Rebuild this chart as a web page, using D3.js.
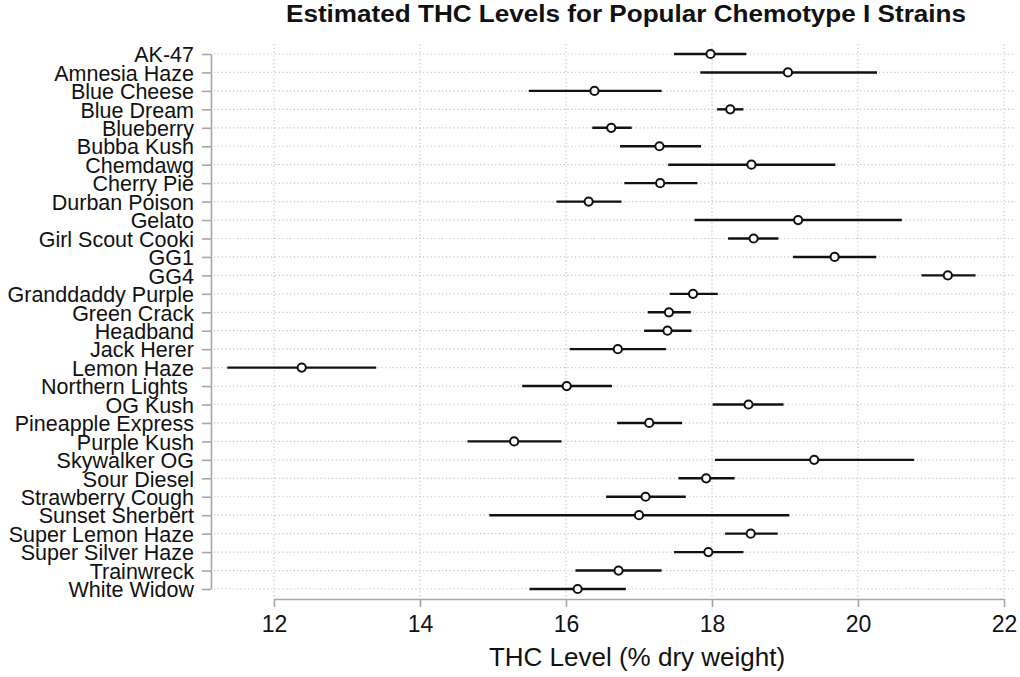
<!DOCTYPE html>
<html>
<head>
<meta charset="utf-8">
<script src="https://cdn.jsdelivr.net/npm/d3@7"></script>
<style>
  body { margin: 0; background: #fff; }
  svg { font-family: "Liberation Sans", Arial, Helvetica, sans-serif; }
</style>
</head>
<body>
<div id="chart"></div>
<script>
//////////////////////////////////////////////////////////////////////////////
// data

var strains = ["AK-47", "Amnesia Haze", "Blue Cheese", "Blue Dream", "Blueberry",
  "Bubba Kush", "Chemdawg", "Cherry Pie", "Durban Poison", "Gelato",
  "Girl Scout Cooki", "GG1", "GG4", "Granddaddy Purple", "Green Crack",
  "Headband", "Jack Herer", "Lemon Haze", "Northern Lights ", "OG Kush",
  "Pineapple Express", "Purple Kush", "Skywalker OG", "Sour Diesel",
  "Strawberry Cough", "Sunset Sherbert", "Super Lemon Haze", "Super Silver Haze",
  "Trainwreck", "White Widow"];

var thcMean = [17.98, 19.04, 16.39, 18.25, 16.62, 17.28, 18.54, 17.29, 16.31, 19.18,
  18.57, 19.68, 21.23, 17.74, 17.41, 17.39, 16.71, 12.38, 16.01, 18.50,
  17.14, 15.29, 19.40, 17.92, 17.09, 17.00, 18.53, 17.95, 16.72, 16.16];

var thcLow = [17.48, 17.84, 15.49, 18.07, 16.36, 16.74, 17.40, 16.80, 15.87, 17.76,
  18.22, 19.11, 20.87, 17.42, 17.12, 17.07, 16.05, 11.36, 15.40, 18.01,
  16.70, 14.65, 18.04, 17.54, 16.55, 14.95, 18.18, 17.48, 16.13, 15.50];

var thcHigh = [18.47, 20.26, 17.31, 18.43, 16.90, 17.85, 19.69, 17.80, 16.76, 20.60,
  18.91, 20.25, 21.61, 18.08, 17.71, 17.72, 17.37, 13.40, 16.63, 18.98,
  17.59, 15.94, 20.77, 18.31, 17.64, 19.06, 18.90, 18.43, 17.31, 16.82];

var xTicks = [12, 14, 16, 18, 20, 22];

//////////////////////////////////////////////////////////////////////////////
// setup

var width = 1020, height = 677;
var axisColor = "#a6a6a6", gridColor = "#c4c4c4";

var x = d3.scaleLinear().domain([12, 22]).range([274, 1004]);
var y = d3.scalePoint().domain(strains).range([54, 589]);

var rows = strains.map(function(s, i) {
  return { name: s, mean: thcMean[i], lo: thcLow[i], hi: thcHigh[i] };
});

var svg = d3.select("#chart").append("svg")
  .attr("width", width)
  .attr("height", height);

// grid
svg.append("g").selectAll("line")
  .data(strains).enter().append("line")
  .attr("x1", 214).attr("x2", 1016)
  .attr("y1", function(d) { return y(d); })
  .attr("y2", function(d) { return y(d); })
  .attr("stroke", gridColor).attr("stroke-width", 1.2)
  .attr("stroke-dasharray", "1.2,2.6");

svg.append("g").selectAll("line")
  .data(xTicks).enter().append("line")
  .attr("x1", function(d) { return x(d); })
  .attr("x2", function(d) { return x(d); })
  .attr("y1", 44).attr("y2", 597)
  .attr("stroke", gridColor).attr("stroke-width", 1.2)
  .attr("stroke-dasharray", "1.2,2.6");

// axes
var xAxis = svg.append("g")
  .attr("transform", "translate(0,599)")
  .call(d3.axisBottom(x).tickValues(xTicks).tickSize(8).tickSizeOuter(0));
xAxis.selectAll(".domain, line").attr("stroke", axisColor).attr("stroke-width", 1.6);
xAxis.selectAll("text")
  .attr("y", 33).attr("dy", null)
  .attr("fill", "#111")
  .style("font-size", "23px");

var yAxis = svg.append("g")
  .attr("transform", "translate(211,0)")
  .call(d3.axisLeft(y).tickSize(9).tickSizeOuter(0).tickPadding(8));
yAxis.selectAll(".domain, line").attr("stroke", axisColor).attr("stroke-width", 1.6);
yAxis.selectAll("text")
  .attr("fill", "#111")
  .attr("dy", "0.36em")
  .style("white-space", "pre")
  .style("font-size", "21.5px");

svg.selectAll(".tick text").style("font-family", "'Liberation Sans', Arial, sans-serif");

// interval lines and points
var marks = svg.append("g");
marks.selectAll("line")
  .data(rows).enter().append("line")
  .attr("x1", function(d) { return x(d.lo); })
  .attr("x2", function(d) { return x(d.hi); })
  .attr("y1", function(d) { return y(d.name); })
  .attr("y2", function(d) { return y(d.name); })
  .attr("stroke", "#111").attr("stroke-width", 2.4);

marks.selectAll("circle")
  .data(rows).enter().append("circle")
  .attr("cx", function(d) { return x(d.mean); })
  .attr("cy", function(d) { return y(d.name); })
  .attr("r", 4.1)
  .attr("fill", "#fff")
  .attr("stroke", "#111").attr("stroke-width", 2);

// titles
svg.append("text")
  .attr("x", 626).attr("y", 22)
  .attr("text-anchor", "middle")
  .attr("textLength", 680)
  .attr("lengthAdjust", "spacingAndGlyphs")
  .style("font-size", "23px").style("font-weight", "bold")
  .attr("fill", "#111")
  .text("Estimated THC Levels for Popular Chemotype I Strains");

svg.append("text")
  .attr("x", 637).attr("y", 666)
  .attr("text-anchor", "middle")
  .style("font-size", "26px")
  .attr("fill", "#111")
  .text("THC Level (% dry weight)");
</script>
</body>
</html>
